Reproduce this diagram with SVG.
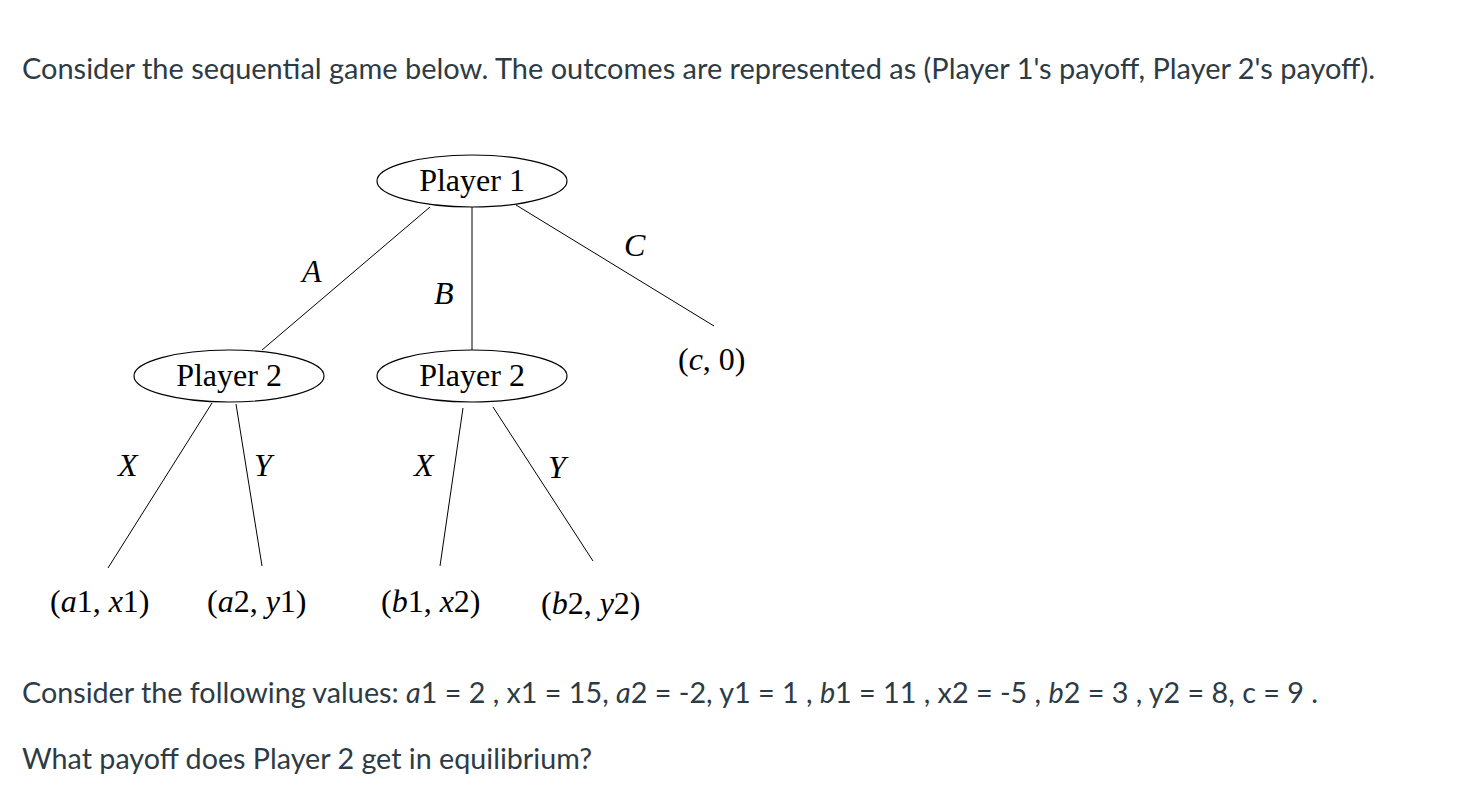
<svg xmlns="http://www.w3.org/2000/svg" width="1462" height="800" viewBox="0 0 1462 800">
<style>
.t{font-family:Lato,"Liberation Sans",sans-serif;font-size:28.5px;fill:#2d3b45}
.n{fill:none;stroke:#000;stroke-width:1.2}
.l{font-family:"Liberation Serif","DejaVu Serif",serif;font-size:32px;fill:#000}
.i{font-style:italic}
.e{stroke:#000;stroke-width:1}
</style>
<rect width="1462" height="800" fill="#fff"/>
<text class="t" x="22" y="79" textLength="1353" lengthAdjust="spacingAndGlyphs">Consider the sequential game below.  The outcomes are represented as (Player 1's payoff, Player 2's payoff).</text>
<g id="edges">
<line class="e" x1="430" y1="207" x2="262" y2="350"/>
<line class="e" x1="472" y1="207" x2="472" y2="350"/>
<line class="e" x1="516" y1="205" x2="714" y2="326"/>
<line class="e" x1="212" y1="403" x2="108" y2="568"/>
<line class="e" x1="236" y1="404" x2="262" y2="566"/>
<line class="e" x1="463" y1="408" x2="440" y2="566"/>
<line class="e" x1="493" y1="407" x2="593" y2="561"/>
</g>
<g id="p1"><ellipse class="n" cx="472" cy="181" rx="95" ry="26"/><text class="l" x="472" y="191" text-anchor="middle">Player 1</text></g>
<g id="p2a"><ellipse class="n" cx="229" cy="376" rx="95" ry="26"/><text class="l" x="229" y="386" text-anchor="middle">Player 2</text></g>
<g id="p2b"><ellipse class="n" cx="472" cy="376" rx="95" ry="26"/><text class="l" x="472" y="386" text-anchor="middle">Player 2</text></g>
<g id="labels" class="l i">
<text x="302" y="282">A</text>
<text x="434" y="304">B</text>
<text x="624" y="256">C</text>
<text x="118" y="476">X</text>
<text x="254" y="476">Y</text>
<text x="414" y="476">X</text>
<text x="548" y="478">Y</text>
</g>
<g id="payoffs" class="l">
<text x="678" y="370">(<tspan class="i">c</tspan>, 0)</text>
<text x="50" y="612">(<tspan class="i">a</tspan>1, <tspan class="i">x</tspan>1)</text>
<text x="207" y="612">(<tspan class="i">a</tspan>2, <tspan class="i">y</tspan>1)</text>
<text x="381" y="612">(<tspan class="i">b</tspan>1, <tspan class="i">x</tspan>2)</text>
<text x="541" y="614">(<tspan class="i">b</tspan>2, <tspan class="i">y</tspan>2)</text>
</g>
<text class="t" x="22" y="703" textLength="1296" lengthAdjust="spacingAndGlyphs">Consider the following values: <tspan font-style="italic">a</tspan>1 = 2 , x1 = 15, <tspan font-style="italic">a</tspan>2 = -2, y1 = 1 , <tspan font-style="italic">b</tspan>1 = 11 , x2 = -5 , <tspan font-style="italic">b</tspan>2 = 3 , y2 = 8, c = 9 .</text>
<text class="t" x="22" y="769" textLength="570" lengthAdjust="spacingAndGlyphs">What payoff does Player 2 get in equilibrium?</text>
</svg>
